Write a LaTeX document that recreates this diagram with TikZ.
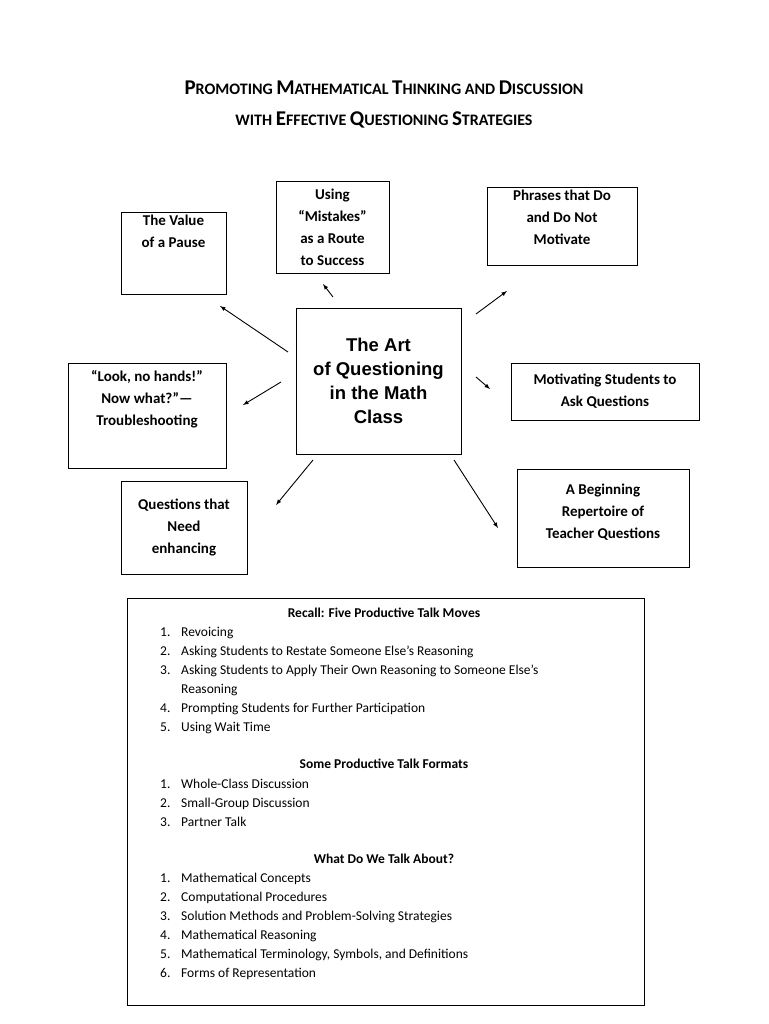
\documentclass[tikz,border=0pt]{standalone}
\usepackage{fontspec}
\setmainfont{Carlito}
\newfontfamily\arial{Liberation Sans}
\begin{document}
\begin{tikzpicture}[x=1pt,y=-1pt,
  bx/.style={draw,line width=0.8pt,align=center,font=\fontsize{15}{22}\selectfont\bfseries,inner sep=0},
  ar/.style={-latex,line width=0.9pt},
  li/.style={anchor=base west,inner sep=0,font=\fontsize{13.5}{16}\selectfont},
  hd/.style={anchor=base,inner sep=0,font=\fontsize{13.5}{16}\selectfont\bfseries}]
\useasboundingbox (0,0) rectangle (768,1024);
\newcommand\bg[1]{\fontsize{21}{25}\selectfont #1}
\newcommand\sm[1]{\fontsize{16}{19}\selectfont #1}
\node[font=\bfseries] (t1) at (384,88) {\bg{P}\sm{ROMOTING} \bg{M}\sm{ATHEMATICAL} \bg{T}\sm{HINKING AND} \bg{D}\sm{ISCUSSION}};
\node[font=\bfseries] (t2) at (384,120) {\sm{WITH} \bg{E}\sm{FFECTIVE} \bg{Q}\sm{UESTIONING} \bg{S}\sm{TRATEGIES}};
\node[bx,minimum width=105,minimum height=82] (pause) at (173.5,253) {The Value\\of a Pause\\[22pt]};
\node[bx,minimum width=113,minimum height=92] (mist) at (332.5,227) {Using\\``Mistakes''\\as a Route\\to Success};
\node[bx,minimum width=150,minimum height=78] (phr) at (562,226) {Phrases that Do\\and Do Not\\Motivate\\[-4pt]};
\node[draw,line width=0.8pt,align=center,font=\arial\fontsize{18.5}{24}\selectfont\bfseries,minimum width=165,minimum height=146,inner sep=0] (c) at (378.5,381) {The Art\\of Questioning\\in the Math\\Class};
\node[bx,minimum width=158,minimum height=105] (look) at (147,415.5) {``Look, no hands!''\\Now what?''---\\Troubleshooting\\[14pt]};
\node[bx,minimum width=188,minimum height=57] (mot) at (605,391.5) {Motivating Students to\\Ask Questions};
\node[bx,minimum width=126,minimum height=93] (qn) at (184,527.5) {Questions that\\Need\\enhancing};
\node[bx,minimum width=172,minimum height=98] (beg) at (603,518) {A Beginning\\Repertoire of\\Teacher Questions\\[-8pt]};
\coordinate (a1) at (288,352); \coordinate (b1) at (220,306);
\coordinate (a2) at (333,297); \coordinate (b2) at (323,284);
\coordinate (a3) at (476,314); \coordinate (b3) at (507,291);
\coordinate (a4) at (476,377); \coordinate (b4) at (490,389);
\coordinate (a5) at (281,382); \coordinate (b5) at (243,405);
\coordinate (a6) at (313,460); \coordinate (b6) at (276,505);
\coordinate (a7) at (454,460); \coordinate (b7) at (498,528);
\foreach \i in {1,...,7} \draw[ar] (a\i) -- (b\i);
\node[draw,line width=0.8pt,minimum width=517,minimum height=407,inner sep=0] (list) at (385.5,801.5) {};
\node[hd] at (384,617) {Recall: Five Productive Talk Moves};
\foreach \n/\y/\t in {1/636/Revoicing,2/655/Asking Students to Restate Someone Else’s Reasoning,3/674/Asking Students to Apply Their Own Reasoning to Someone Else’s,4/712/Prompting Students for Further Participation,5/731/Using Wait Time}
  {\node[li] at (160,\y) {\n.}; \node[li] at (181,\y) {\t};}
\node[li] at (181,693) {Reasoning};
\node[hd] at (384,768) {Some Productive Talk Formats};
\foreach \n/\y/\t in {1/788/Whole-Class Discussion,2/807/Small-Group Discussion,3/826/Partner Talk}
  {\node[li] at (160,\y) {\n.}; \node[li] at (181,\y) {\t};}
\node[hd] at (384,863) {What Do We Talk About?};
\foreach \n/\y/\t in {1/882/Mathematical Concepts,2/901/Computational Procedures,3/920/Solution Methods and Problem-Solving Strategies,4/939/Mathematical Reasoning,5/958/{Mathematical Terminology, Symbols, and Definitions},6/977/Forms of Representation}
  {\node[li] at (160,\y) {\n.}; \node[li] at (181,\y) {\t};}
\end{tikzpicture}
\end{document}
